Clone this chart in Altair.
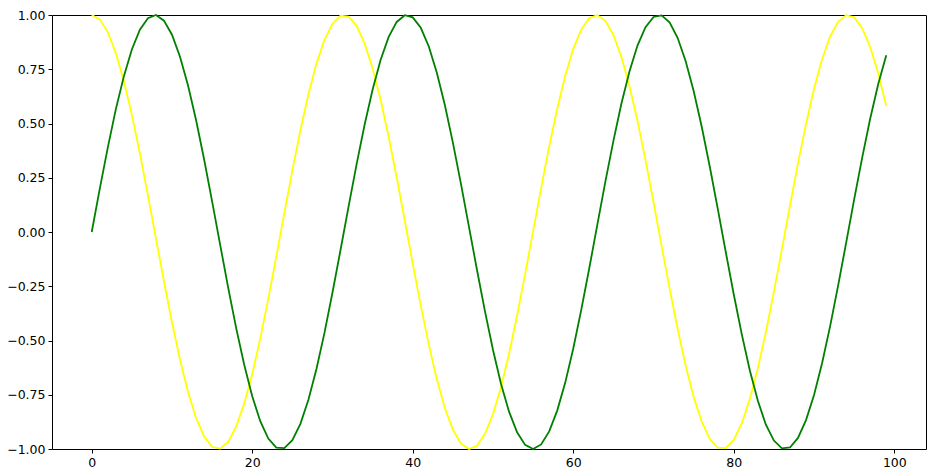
import altair as alt
import pandas as pd

sin_vals = [
    0.000, 0.199, 0.389, 0.565, 0.717, 0.841, 0.932, 0.985, 1.000, 0.974, 0.909, 0.808, 0.675, 0.516, 0.335, 0.141,
    -0.058, -0.256, -0.443, -0.612, -0.757, -0.872, -0.952, -0.994, -0.996, -0.959, -0.884, -0.773, -0.631, -0.465, -0.279, -0.083,
    0.117, 0.312, 0.494, 0.657, 0.794, 0.899, 0.968, 0.999, 0.989, 0.941, 0.855, 0.734, 0.585, 0.412, 0.223, 0.025,
    -0.174, -0.366, -0.544, -0.700, -0.828, -0.923, -0.981, -1.000, -0.979, -0.919, -0.823, -0.694, -0.537, -0.358, -0.166,
    0.034, 0.232, 0.420, 0.592, 0.740, 0.859, 0.944, 0.991, 0.998, 0.966, 0.895, 0.788, 0.650, 0.486, 0.303, 0.108,
    -0.092, -0.288, -0.472, -0.638, -0.778, -0.888, -0.961, -0.997, -0.993, -0.949, -0.867, -0.751, -0.605, -0.435, -0.247, -0.050,
    0.150, 0.343, 0.523, 0.682, 0.814,
]

cos_vals = [
    1.000, 0.980, 0.921, 0.825, 0.697, 0.540, 0.362, 0.170, -0.029, -0.227, -0.416, -0.589, -0.737, -0.857, -0.942, -0.990,
    -0.998, -0.967, -0.897, -0.791, -0.654, -0.490, -0.307, -0.112, 0.087, 0.284, 0.469, 0.635, 0.776, 0.886, 0.960, 0.997,
    0.993, 0.950, 0.869, 0.754, 0.608, 0.439, 0.251, 0.054, -0.146, -0.339, -0.519, -0.679, -0.811, -0.911, -0.975, -1.000,
    -0.985, -0.930, -0.839, -0.714, -0.561, -0.385, -0.194, 0.004, 0.203, 0.394, 0.568, 0.720, 0.844, 0.934, 0.986,
    0.999, 0.973, 0.908, 0.806, 0.672, 0.512, 0.331, 0.137, -0.063, -0.260, -0.446, -0.615, -0.760, -0.874, -0.953, -0.994,
    -0.996, -0.958, -0.881, -0.770, -0.628, -0.461, -0.275, -0.079, 0.121, 0.316, 0.498, 0.660, 0.796, 0.901, 0.969, 0.999,
    0.989, 0.939, 0.852, 0.731, 0.581,
]

x_vals = list(range(len(sin_vals)))
x_ticks = [0, 20, 40, 60, 80, 100]
y_ticks = [-1.0, -0.75, -0.5, -0.25, 0.0, 0.25, 0.5, 0.75, 1.0]

df = pd.DataFrame({"x": x_vals, "sin": sin_vals, "cos": cos_vals})

FONT = "DejaVu Sans"

x_enc = alt.X(
    "x:Q",
    scale=alt.Scale(domain=[-4.95, 103.95], nice=False, zero=False),
    axis=alt.Axis(
        values=x_ticks, format="d", title=None, grid=False, domain=False,
        tickColor="#000000", tickSize=4, labelPadding=3, labelColor="#000000",
        labelFont=FONT, labelFontSize=12.5, labelFlush=False,
    ),
)
y_axis = alt.Axis(
    values=y_ticks, format=".2f", title=None, grid=False, domain=False,
    tickColor="#000000", tickSize=4, labelPadding=3, labelColor="#000000",
    labelFont=FONT, labelFontSize=12.5, labelFlush=False,
    labelExpr="replace(datum.label, '-', '\u2212')",
)
y_scale = alt.Scale(domain=[-1, 1], nice=False, zero=False)

base = alt.Chart(df)
cos_line = base.mark_line(color="#ffff00", strokeWidth=1.8).encode(
    x=x_enc, y=alt.Y("cos:Q", scale=y_scale, axis=y_axis)
)
sin_line = base.mark_line(color="#008000", strokeWidth=1.8).encode(
    x=x_enc, y=alt.Y("sin:Q", scale=y_scale, axis=y_axis)
)

chart = (
    alt.layer(cos_line, sin_line)
    .properties(
        width=874,
        height=434,
        background="#ffffff",
        autosize=alt.AutoSizeParams(type="none"),
        padding={"left": 44, "top": 7, "right": 2, "bottom": 19},
    )
    .configure_view(stroke="#000000", strokeWidth=1)
)

chart.save("out.html", embed_options={"renderer": "svg", "actions": False})
